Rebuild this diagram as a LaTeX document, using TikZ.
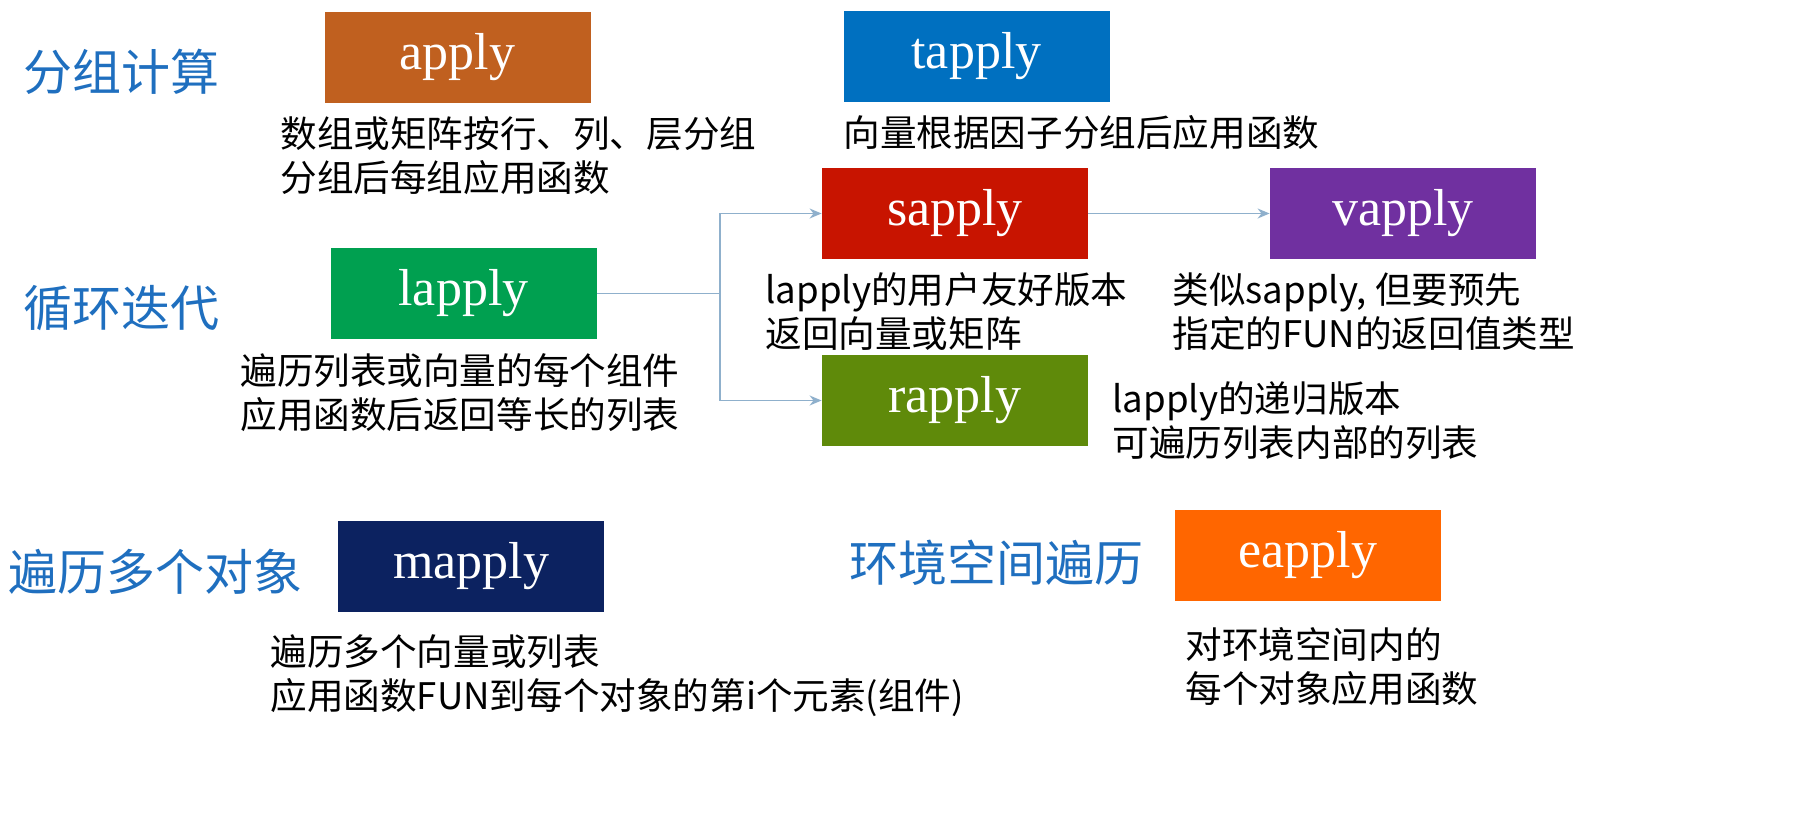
\documentclass[tikz,border=0pt]{standalone}
\usepackage{fontspec}
\setmainfont{Liberation Serif}
\newfontfamily\cjk{Noto Sans CJK SC}
\usetikzlibrary{arrows.meta}
\definecolor{cat}{HTML}{1F6FBF}
\definecolor{capply}{HTML}{C0601F}
\definecolor{ctapply}{HTML}{0070C0}
\definecolor{csapply}{HTML}{C81400}
\definecolor{cvapply}{HTML}{7030A0}
\definecolor{clapply}{HTML}{00A050}
\definecolor{crapply}{HTML}{5F8A0A}
\definecolor{cmapply}{HTML}{0C2260}
\definecolor{ceapply}{HTML}{FF6600}
\definecolor{conn}{HTML}{8FB0CC}
\begin{document}
\begin{tikzpicture}[x=0.5pt,y=-0.5pt,
  fbox/.style={fill=#1,text=white,minimum width=133pt,minimum height=45.5pt,inner sep=0pt,font=\fontsize{26}{30}\selectfont},
  catl/.style={text=cat,font=\cjk\fontsize{24.5}{28}\selectfont,inner sep=0pt},
  desc/.style={anchor=west,align=left,inner sep=0pt,font=\cjk\fontsize{18.3}{22}\selectfont},
  conn/.style={draw=conn,line width=0.8pt,-{Stealth[length=6pt,width=5pt]}}]
\useasboundingbox (0,0) rectangle (1806,828);
\node[fbox=capply] (apply) at (457.5,57.5) {apply};
\node[fbox=ctapply] (tapply) at (976.5,56.5) {tapply};
\node[fbox=csapply] (sapply) at (955,213.5) {sapply};
\node[fbox=cvapply] (vapply) at (1403,213.5) {vapply};
\node[fbox=clapply] (lapply) at (463.5,293.5) {lapply};
\node[fbox=crapply] (rapply) at (955,400.5) {rapply};
\node[fbox=cmapply] (mapply) at (471,566.5) {mapply};
\node[fbox=ceapply] (eapply) at (1308,555.5) {eapply};
\node[catl] (c1) at (122,72) {分组计算};
\node[catl] (c2) at (122,308) {循环迭代};
\node[catl] (c3) at (156,572) {遍历多个对象};
\node[catl] (c4) at (996,563) {环境空间遍历};
\node[desc] (d1) at (280,156) {数组或矩阵按行、列、层分组\\分组后每组应用函数};
\node[desc] (d2) at (843,133) {向量根据因子分组后应用函数};
\node[desc] (d3) at (765,312) {lapply的用户友好版本\\返回向量或矩阵};
\node[desc] (d4) at (1172,312) {类似sapply, 但要预先\\指定的FUN的返回值类型};
\node[desc] (d5) at (240,393) {遍历列表或向量的每个组件\\应用函数后返回等长的列表};
\node[desc] (d6) at (1112,421) {lapply的递归版本\\可遍历列表内部的列表};
\node[desc] (d7) at (270,676) {遍历多个向量或列表\\应用函数FUN到每个对象的第i个元素(组件)};
\node[desc] (d8) at (1185,667) {对环境空间内的\\每个对象应用函数};
\coordinate (j) at (720,293.5);
\draw[draw=conn,line width=0.8pt] (lapply.east) -- (j);
\draw[conn] (j) |- (sapply.west);
\draw[conn] (j) |- (rapply.west);
\draw[conn] (sapply.east) -- (vapply.west);
\end{tikzpicture}
\end{document}
